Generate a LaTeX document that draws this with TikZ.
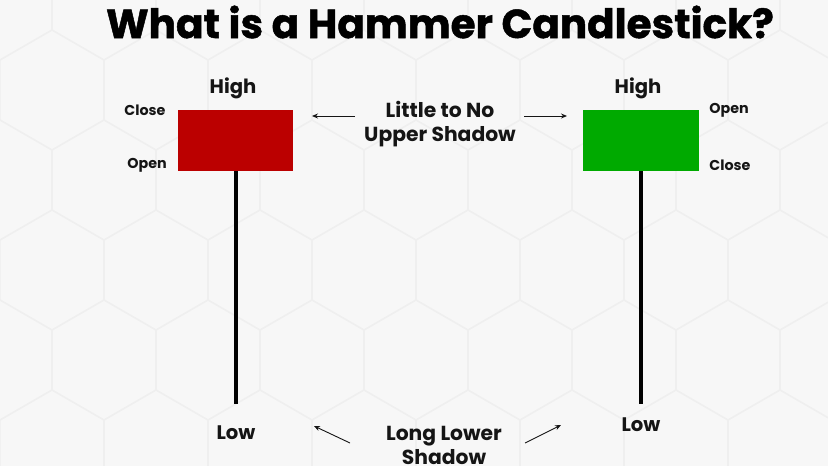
\documentclass[tikz,border=0pt]{standalone}
\usepackage{fontspec}
\setmainfont{Poppins}
\newfontfamily\titlefont[FakeBold=1.2]{Poppins Bold}
\usetikzlibrary{arrows.meta}
\definecolor{candred}{HTML}{BB0000}
\definecolor{candgreen}{HTML}{00AA00}
\definecolor{bg}{HTML}{F7F7F7}
\definecolor{hexc}{HTML}{EFEFEF}
\definecolor{ink}{HTML}{151515}
\tikzset{
  lbl/.style={font=\fontsize{14.3}{16}\selectfont\bfseries, text=ink, inner sep=0pt},
  hl/.style={font=\fontsize{19.6}{22}\selectfont\bfseries, text=ink, inner sep=0pt},
  mid/.style={font=\fontsize{20.3}{24}\selectfont\bfseries, text=ink, align=center, inner sep=0pt},
  wick/.style={line width=3.5pt, draw=black},
  pointer/.style={-{Stealth[length=6pt,width=5pt]}, line width=0.9pt, draw=ink},
}
\begin{document}
\begin{tikzpicture}[x=1pt,y=-1pt]
\useasboundingbox (0,0) rectangle (828,466);
\fill[bg] (0,0) rectangle (828,466);
% faint hexagon background
\begin{scope}
\clip (0,0) rectangle (828,466);
\foreach \i in {0,...,9}{
  \foreach \j in {0,...,5}{
    \pgfmathsetmacro{\cx}{\i*104 + mod(\j,2)*52}
    \pgfmathsetmacro{\cy}{\j*90}
    \draw[hexc, line width=1.2pt] (\cx,\cy) ++(90:60) -- ++(-30:60) -- ++(-90:60) -- ++(-150:60) -- ++(150:60) -- ++(90:60) -- cycle;
  }
}
\end{scope}
\node[font=\titlefont\fontsize{40.5}{44}\selectfont, text=black, inner sep=0pt] (title) at (440,22) {What is a Hammer Candlestick?};

% red candle
\node[fill=candred, minimum width=115pt, minimum height=61pt, inner sep=0pt] (red) at (235.5,140.5) {};
\coordinate (redlow) at (236,404);
\draw[wick] (red.south -| redlow) -- (redlow);
\node[hl] (highL) at (233,88) {High};
\node[lbl] (closeL) at (145,110) {Close};
\node[lbl] (openL) at (147,165) {Open};
\node[hl] (lowL) at (236,433) {Low};

% green candle
\node[fill=candgreen, minimum width=116pt, minimum height=61pt, inner sep=0pt] (green) at (641,140.5) {};
\coordinate (greenlow) at (641,404);
\draw[wick] (green.south) -- (greenlow);
\node[hl] (highR) at (638,88) {High};
\node[lbl] (openR) at (729,110) {Open};
\node[lbl] (closeR) at (730,165) {Close};
\node[hl] (lowR) at (641,425) {Low};

% upper label
\node[mid] (upper) at (440,124) {Little to No\\Upper Shadow};
\coordinate (ua1) at (355,116);
\coordinate (ua2) at (312,116);
\coordinate (ub1) at (524,116);
\coordinate (ub2) at (567,116);
\draw[pointer] (ua1) -- (ua2);
\draw[pointer] (ub1) -- (ub2);

% lower label
\node[mid] (lower) at (444,445) {Long Lower\\Shadow};
\coordinate (la1) at (350,443);
\coordinate (la2) at (314,426);
\coordinate (lb1) at (525,443);
\coordinate (lb2) at (561,425);
\draw[pointer] (la1) -- (la2);
\draw[pointer] (lb1) -- (lb2);
\end{tikzpicture}
\end{document}
